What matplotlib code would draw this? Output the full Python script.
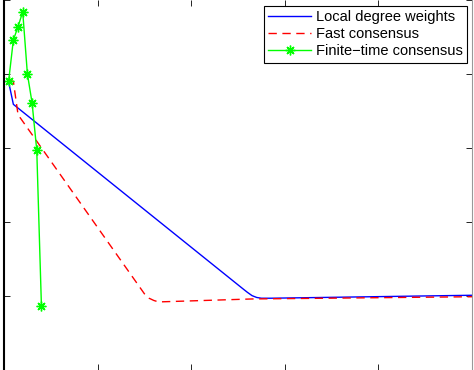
import numpy as np
import matplotlib
matplotlib.use("Agg")
import matplotlib.pyplot as plt

# iteration numbers and error values
local_it = [1, 2, 51, 52, 53, 54, 55, 57, 100]
local_err = [-1.11, -1.41, -3.90, -3.95, -3.995, -4.02, -4.03, -4.03, -3.99]

fast_it = [1, 2, 3, 30, 31, 32, 33, 53, 100]
fast_err = [-1.08, -1.10, -1.55, -3.97, -4.03, -4.06, -4.08, -4.04, -4.01]

finite_it = [1, 2, 3, 4, 5, 6, 7, 8]
finite_err = [-1.09, -0.54, -0.36, -0.16, -1.00, -1.39, -2.03, -4.14]

fig = plt.figure(figsize=(4.74, 3.70), dpi=100)
ax = fig.add_axes([4 / 474, 0, 468 / 474, 1])

ax.plot(local_it, local_err, color="#0000ff", lw=1, label="Local degree weights")
ax.plot(fast_it, fast_err, color="#ff0000", lw=1, ls=(0, (6, 4)), label="Fast consensus")
ax.plot(finite_it, finite_err, color="#00ff00", lw=1, marker=(8, 2, 0), ms=7,
        mew=1, mec="#00ff00", label="Finite\u2212time consensus")

ax.set_xlim(0, 100)
ax.set_ylim(-5, 0)
ax.set_xticks(np.arange(0, 101, 20))
ax.set_yticks(np.arange(-5, 0.1, 1))
ax.tick_params(direction="in", length=4, width=0.6, top=True, right=True,
               labelbottom=False, labelleft=False)
ax.spines["top"].set_visible(False)
ax.spines["bottom"].set_visible(False)
ax.spines["left"].set_linewidth(1.5)
ax.spines["right"].set_color("#999999")

leg = ax.legend(loc="upper right", bbox_to_anchor=(0.989, 0.984), borderaxespad=0,
                fancybox=False, edgecolor="black", framealpha=1,
                prop={"family": "Liberation Sans", "size": 10.5},
                handlelength=2.95, handletextpad=0.3, labelspacing=0.2,
                borderpad=0.3)
leg.get_frame().set_linewidth(0.8)

fig.savefig("out.png", dpi=100)
